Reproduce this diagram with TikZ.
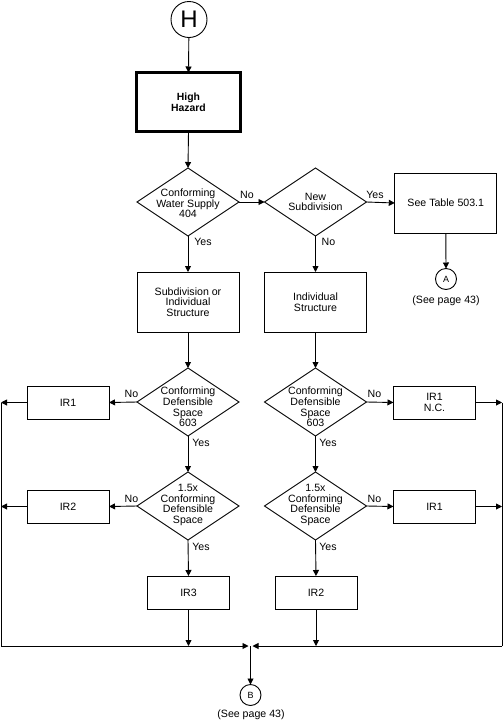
\documentclass[tikz,border=0pt]{standalone}
\usepackage{fontspec}
\setmainfont{Liberation Sans}
\usetikzlibrary{shapes.geometric,arrows.meta}
\begin{document}
\begin{tikzpicture}[x=1pt,y=-1pt,
  line width=0.9pt,
  every node/.style={font=\fontsize{10.6}{10.6}\selectfont, inner sep=0pt, outer sep=0pt},
  arr/.style={-{Triangle[length=6pt,width=6pt]}},
  box/.style={draw, rectangle, minimum width=102pt, minimum height=60pt, align=center},
  sbox/.style={draw, rectangle, minimum width=82pt, minimum height=33pt, align=center},
  dia/.style={draw, diamond, minimum width=102pt, minimum height=68pt},
  dtext/.style={align=center},
  conn/.style={draw, circle, minimum size=21pt, font=\fontsize{9}{9}\selectfont},
  lbl/.style={}
]
\useasboundingbox (0,0) rectangle (503,721);

% connectors (circles)
\node[draw, circle, minimum size=36pt, font=\fontsize{24}{24}\selectfont] (H) at (189,19.5) {H};
\node[conn] (A) at (446,279) {A};
\node (Anote) at (446,301) {(See page 43)};
\node[conn] (B) at (250.5,695) {B};
\node (Bnote) at (251,715) {(See page 43)};

% boxes
\node[draw, line width=3pt, minimum width=104pt, minimum height=59pt, align=center, font=\bfseries\fontsize{10.4}{10.6}\selectfont] (hh) at (188.5,102) {High\\Hazard};
\node[box] (tab) at (445.8,203) {See Table 503.1};
\node[box] (sub) at (188,302) {Subdivision or\\Individual\\Structure};
\node[box] (ind) at (315.5,302) {Individual\\Structure};
\node[sbox] (ir1L) at (68,402.5) {IR1};
\node[sbox] (ir1nc) at (434.5,402.5) {IR1\\N.C.};
\node[sbox] (ir2L) at (68,506.5) {IR2};
\node[sbox] (ir1R) at (434.5,506.5) {IR1};
\node[sbox] (ir3) at (188.5,592.5) {IR3};
\node[sbox] (ir2B) at (316,592.5) {IR2};

% diamonds
\node[dia] (d1) at (188,202) {};
\node[dtext] (d1t) at (188,203.5) {Conforming\\Water Supply\\404};
\node[dia] (d2) at (315.5,202) {};
\node[dtext] (d2t) at (315.5,202) {New\\Subdivision};
\node[dia] (d3) at (188,402) {};
\node[dtext] (d3t) at (188,407) {Conforming\\Defensible\\Space\\603};
\node[dia] (d4) at (315.5,402) {};
\node[dtext] (d4t) at (315.5,407) {Conforming\\Defensible\\Space\\603};
\node[dia] (d5) at (188,506) {};
\node[dtext] (d5t) at (188,505) {1.5x\\Conforming\\Defensible\\Space};
\node[dia] (d6) at (315.5,506) {};
\node[dtext] (d6t) at (315.5,505) {1.5x\\Conforming\\Defensible\\Space};

% side rails
\coordinate (L1) at (1,402.5);
\coordinate (L2) at (1,506.5);
\coordinate (Lb) at (1,646);
\coordinate (R1) at (502,402.5);
\coordinate (R2) at (502,506.5);
\coordinate (Rb) at (502,646);
\coordinate (Ml) at (248.5,646);
\coordinate (Mr) at (252.5,646);
\coordinate (M) at (250.5,646);

% connectors
\draw[arr] (H) -- (hh.north);
\draw[arr] (hh.south) -- (d1.north);
\draw[arr] (d1.east) -- (d2.west);
\draw[arr] (d2.east) -- (tab.west);
\draw[arr] (tab.south) -- (A.north);
\draw[arr] (d1.south) -- (sub.north);
\draw[arr] (d2.south) -- (ind.north);
\draw[arr] (sub.south) -- (d3.north);
\draw[arr] (ind.south) -- (d4.north);
\draw[arr] (d3.west) -- (ir1L.east);
\draw[arr] (d4.east) -- (ir1nc.west);
\draw[arr] (d3.south) -- (d5.north);
\draw[arr] (d4.south) -- (d6.north);
\draw[arr] (d5.west) -- (ir2L.east);
\draw[arr] (d6.east) -- (ir1R.west);
\draw[arr] (d5.south) -- (ir3.north);
\draw[arr] (d6.south) -- (ir2B.north);
\draw[arr] (ir1L.west) -- (L1);
\draw[arr] (ir2L.west) -- (L2);
\draw[arr] (ir1nc.east) -- (R1);
\draw[arr] (ir1R.east) -- (R2);
\draw (L1) -- (Lb);
\draw (R1) -- (Rb);
\draw[arr] (ir3.south) -- (ir3.south |- Lb);
\draw[arr] (ir2B.south) -- (ir2B.south |- Lb);
\draw[arr] (Lb) -- (Ml);
\draw[arr] (Rb) -- (Mr);
\draw[arr] (M) -- (B.north);

% labels
\node[lbl] at (247,195) {No};
\node[lbl] at (375,195) {Yes};
\node[lbl] at (203,242) {Yes};
\node[lbl] at (328.5,242) {No};
\node[lbl] at (131.5,394) {No};
\node[lbl] at (374.5,394) {No};
\node[lbl] at (201,443) {Yes};
\node[lbl] at (328,443) {Yes};
\node[lbl] at (131.5,499) {No};
\node[lbl] at (374.5,499) {No};
\node[lbl] at (201,547) {Yes};
\node[lbl] at (328,547) {Yes};
\end{tikzpicture}
\end{document}
